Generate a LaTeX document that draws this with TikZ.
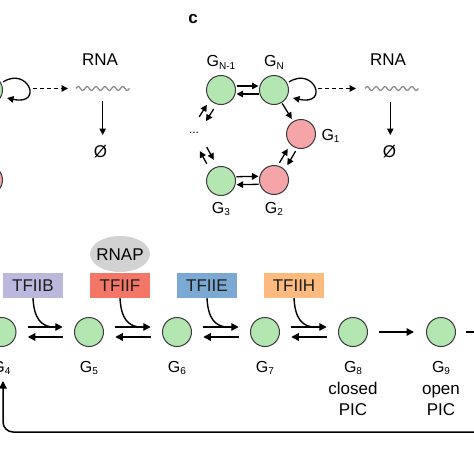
\documentclass[tikz,border=0pt]{standalone}
\usepackage{fontspec}
\setmainfont{Liberation Sans}
\usetikzlibrary{arrows.meta,calc,shapes.geometric}
\definecolor{gfill}{HTML}{B3E6B1}
\definecolor{rfill}{HTML}{F5A4A7}
\definecolor{nline}{HTML}{3A3A3A}
\definecolor{cB}{HTML}{BAB8DC}
\definecolor{cF}{HTML}{F47666}
\definecolor{cE}{HTML}{7BA9D3}
\definecolor{cH}{HTML}{FDBA7E}
\definecolor{cP}{HTML}{D2D2D2}
\definecolor{wavec}{HTML}{8C8C8C}
\newcommand\Gs[1]{G\raisebox{-2.5pt}{\fontsize{10}{10}\selectfont #1}}
\newcommand\sidearr[4]{\draw[carr,shorten <=#3,shorten >=#4] ($(#1)!4pt!90:(#2)$) -- ($(#2)!4pt!-90:(#1)$);}
\begin{document}
\begin{tikzpicture}[x=1pt,y=-1pt,
 gnode/.style={circle,draw=nline,line width=1pt,fill=gfill,minimum size=29pt,inner sep=0pt,outer sep=0pt},
 rnode/.style={gnode,fill=rfill},
 lab/.style={font=\fontsize{16}{16}\selectfont,inner sep=0pt,anchor=base},
 txt/.style={font=\fontsize{17}{17}\selectfont,inner sep=0pt,anchor=base},
 tfbox/.style={minimum width=60pt,minimum height=25pt,inner sep=0pt,font=\fontsize{17}{17}\selectfont,text=black!88},
 arr/.style={line width=1.4pt,-{Triangle[length=7.5pt,width=7.5pt]}},
 carr/.style={line width=1.3pt,-{Triangle[length=6.5pt,width=6.5pt]}},
 cat/.style={line width=1.4pt},
 dsh/.style={carr,dash pattern=on 4pt off 3pt},
 wavy/.style={line width=1.3pt,draw=wavec},
]
\useasboundingbox (0,0) rectangle (474,474);
\clip (0,0) rectangle (474,474);

% title
\node[font=\bfseries\fontsize{17}{17}\selectfont,inner sep=0pt,anchor=base] (ttl) at (193,23) {c};

% ---------- left partial panel ----------
\node[gnode] (bl) at (-12,90) {};
\node[rnode] (br) at (-12,180) {};
\draw[carr] ($(bl)+(15,-8)$) .. controls ($(bl)+(40,-24)$) and ($(bl)+(56,16)$) .. ($(bl)+(19,8)$);
\coordinate (lds) at (33,88.5);
\coordinate (lw1) at (76,88.5);
\coordinate (lw2) at (129.5,88.5);
\draw[dsh] (lds) -- ($(lw1)+(-8,0)$);
\draw[wavy] plot[domain=76:129.5,samples=90] (\x,{88.5-1.9*sin((\x-76)*40.449)});
\node[txt] (lrna) at (100,65.7) {RNA};
\node[font=\fontsize{17}{17}\selectfont,inner sep=0pt] (ldeg) at (100.5,152) {Ø};
\coordinate (ldt) at (102.7,101);
\draw[carr] (ldt) -- (102.7,135) coordinate (ldb);

% ---------- panel c ----------
\node[gnode] (gN1) at (221,90) {};
\node[gnode] (gN) at (274,90) {};
\node[rnode] (g1) at (301,134) {};
\node[rnode] (g2) at (274,180) {};
\node[gnode] (g3) at (221,181) {};
\node[font=\fontsize{12}{12}\selectfont,inner sep=0pt] (dots) at (194,132.5) {...};

\node[lab] (lN1) at (221,66.7) {\Gs{N-1}};
\node[lab] (lN) at (274,66.7) {\Gs{N}};
\node[lab] (l1) at (330.5,140) {\Gs{1}};
\node[lab] (l2) at (274,213.3) {\Gs{2}};
\node[lab] (l3) at (221,213.3) {\Gs{3}};

\sidearr{gN1}{gN}{15.5pt}{15.5pt}
\sidearr{gN}{gN1}{15.5pt}{15.5pt}
\draw[carr,shorten <=15.8pt,shorten >=17.6pt] (gN.center) -- (g1.center);
\sidearr{g2}{g1}{17.5pt}{19.5pt}
\sidearr{g1}{g2}{17.5pt}{19.5pt}
\sidearr{g3}{g2}{15.5pt}{15.5pt}
\sidearr{g2}{g3}{15.5pt}{15.5pt}
\sidearr{dots}{gN1}{16pt}{20pt}
\sidearr{gN1}{dots}{20pt}{16pt}
\sidearr{g3}{dots}{22pt}{19pt}
\sidearr{dots}{g3}{19pt}{22pt}

\draw[carr] ($(gN)+(15,-8)$) .. controls ($(gN)+(40,-24)$) and ($(gN)+(56,16)$) .. ($(gN)+(19,8)$);
\coordinate (rds) at (318,88.5);
\coordinate (rw1) at (365,88.5);
\coordinate (rw2) at (417,88.5);
\draw[dsh] (rds) -- ($(rw1)+(-9,0)$);
\draw[wavy] plot[domain=365:418.4,samples=90] (\x,{88.5-1.9*sin((\x-365)*40.449)});
\node[txt] (rrna) at (388,65.7) {RNA};
\node[font=\fontsize{17}{17}\selectfont,inner sep=0pt] (rdeg) at (389.5,152) {Ø};
\coordinate (rdt) at (390.3,101.5);
\draw[carr] (rdt) -- (390.3,135) coordinate (rdb);

% ---------- bottom row ----------
\node[gnode] (g4) at (1.5,332) {};
\node[gnode] (g5) at (89,332) {};
\node[gnode] (g6) at (177,332) {};
\node[gnode] (g7) at (265,332) {};
\node[gnode] (g8) at (353,332) {};
\node[gnode] (g9) at (441,332) {};

\node[lab] (l4) at (1.5,372) {\Gs{4}};
\node[lab] (l5) at (89,372) {\Gs{5}};
\node[lab] (l6) at (177,372) {\Gs{6}};
\node[lab] (l7) at (265,372) {\Gs{7}};
\node[lab] (l8) at (353,372) {\Gs{8}};
\node[lab] (l9) at (441,372) {\Gs{9}};
\node[txt] (cl) at (353,394) {closed};
\node[txt] (p8) at (353,415.7) {PIC};
\node[txt] (op) at (441,394) {open};
\node[txt] (p9) at (441,415.7) {PIC};

\fill[cP] (120,254) ellipse [x radius=30pt, y radius=18pt];
\node[txt] (rnap) at (120,260.7) {RNAP};
\node[tfbox,fill=cB] (bB) at (33,285.5) {TFIIB};
\node[tfbox,fill=cF] (bF) at (120,285.5) {TFIIF};
\node[tfbox,fill=cE] (bE) at (207,285.5) {TFIIE};
\node[tfbox,fill=cH] (bH) at (294,285.5) {TFIIH};

\foreach \a/\b in {g4/g5,g5/g6,g6/g7,g7/g8}{
  \draw[arr,shorten <=11.75pt,shorten >=11.75pt] ([yshift=5pt]\a.east) -- ([yshift=5pt]\b.west);
  \draw[arr,shorten <=11.75pt,shorten >=11.75pt] ([yshift=-5pt]\b.west) -- ([yshift=-5pt]\a.east);
}
\foreach \bx in {bB,bF,bE,bH}{
  \draw[cat] (\bx.south) .. controls +(1,20) and +(-14,0) .. ($(\bx.south)+(22,29)$);
}
\draw[arr,shorten <=11.5pt,shorten >=12.5pt] (g8) -- (g9);
\coordinate (out) at (500,332);
\draw[arr,shorten <=10pt] (g9) -- (out);

\coordinate (fbs) at (480,432);
\coordinate (fbe) at (3,381);
\draw[arr,line width=1.5pt,rounded corners=10pt] (fbs) -| (fbe);
\end{tikzpicture}
\end{document}
